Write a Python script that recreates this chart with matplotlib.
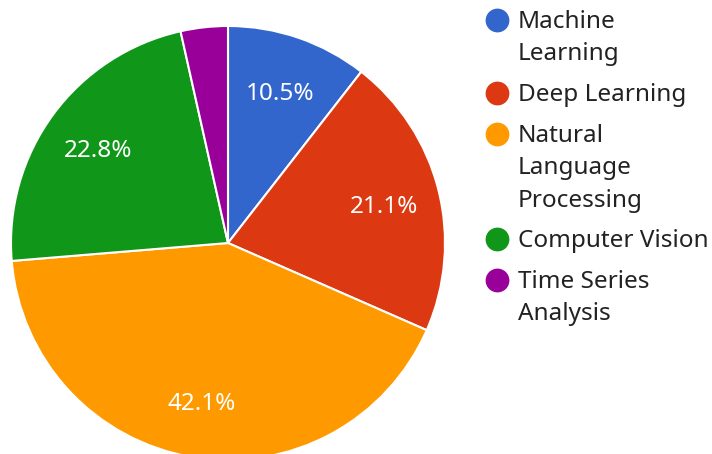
import matplotlib
matplotlib.use("Agg")
import matplotlib.pyplot as plt

plt.rcParams["font.family"] = ["Noto Sans", "DejaVu Sans"]

categories = ["Machine\nLearning", "Deep Learning", "Natural\nLanguage\nProcessing",
              "Computer Vision", "Time Series\nAnalysis"]
counts = [6, 12, 24, 13, 2]
colors = ["#3366cc", "#dc3912", "#ff9900", "#109618", "#990099"]

W, H = 712, 454
fig = plt.figure(figsize=(W / 100, H / 100), dpi=100)
ax = fig.add_axes([0, 0, 1, 1])


def pct(p):
    return f"{p:.1f}%" if p > 5 else ""


wedges, texts, autotexts = ax.pie(
    counts, colors=colors, startangle=90, counterclock=False,
    center=(228, H - 243), radius=217, autopct=pct, pctdistance=0.74,
    wedgeprops=dict(edgecolor="white", linewidth=1.5),
    textprops=dict(color="white", fontsize=17.5),
)
for t in autotexts:
    x, y = t.get_position()
    t.set_position((x, y - 3))

# pie() resets the limits, so set the pixel frame afterwards
ax.set_xlim(0, W)
ax.set_ylim(0, H)
ax.set_aspect("equal")
ax.axis("off")

# legend drawn by hand so the marker sits on the first line of each label
y = H - 20
line_h = 32
for name, c in zip(categories, colors):
    ax.scatter([497], [y], s=260, color=c, zorder=3, clip_on=False)
    ax.text(518, y + 10, name, fontsize=17.5, color="#222222", va="top",
            linespacing=1.47)
    n = name.count("\n") + 1
    y -= n * line_h + 9

fig.savefig("out.png", dpi=100)
